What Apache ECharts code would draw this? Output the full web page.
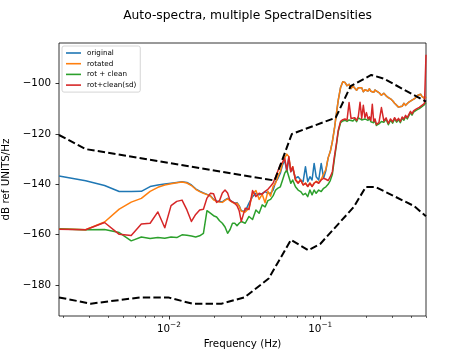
<!DOCTYPE html>
<html><head><meta charset="utf-8">
<script src="https://cdn.jsdelivr.net/npm/echarts@6/dist/echarts.min.js"></script>
<style>html,body{margin:0;padding:0;background:#fff}#c{width:474px;height:355px}</style>
</head><body><div id="c"></div>
<script>
// Frequencies (Hz)
const freqs = [0.00188,0.00282,0.00376,0.0047,0.00564,0.00658,0.00752,0.00846,0.0094,0.01034,0.01128,0.01222,0.01316,0.0141,0.01504,0.01598,0.01692,0.01786,0.0188,0.01974,0.02068,0.02162,0.02256,0.0235,0.02444,0.02538,0.02632,0.02726,0.0282,0.02914,0.03008,
0.03196,0.03384,0.03572,0.0376,0.03948,0.04136,0.04324,0.04512,0.047,0.04888,0.05076,0.05264,0.05452,0.0564,0.05828,0.06016,0.06204,0.06392,0.0658,
0.06862,0.07144,0.07426,0.07708,0.0799,0.08272,0.08554,0.08836,0.09118,
0.094,0.09776,0.10152,0.10528,0.10904,0.1128,0.11656,0.12032,0.12408,0.12784,0.1316,0.1363,0.141,0.1457,
0.1504,0.1551,0.1598,0.1645,0.1692,0.1739,0.1786,0.1833,0.188,0.1927,0.1974,0.2021,0.2068,0.2115,0.2162,0.2209,0.2256,0.2303,0.235,
0.2444,0.2538,0.2632,0.2726,0.282,0.2914,0.3008,0.3102,0.3196,0.329,0.3384,0.3478,0.3572,0.3666,0.376,0.3854,0.3948,0.4042,0.4136,0.423,0.4324,0.4418,0.4512,0.4606,0.47,0.4794,0.4888,
0.5];

const original = [-136.7,-138.6,-140.5,-142.9,-142.9,-142.8,-140.9,-140.3,-139.9,-139.6,-139.3,-139.0,-139.3,-140.3,-141.8,-142.7,-143.4,-144.0,-144.6,-146.0,-146.6,-146.9,-147.0,-146.2,-145.6,-146.3,-147.0,-147.5,-147.3,-148.5,-150.5,
-150.8,-147.5,-144.9,-143.6,-144.2,-143.6,-142.9,-143.6,-143.6,-142.3,-139.0,-137.6,-135.6,-132.3,-130.4,-135.0,-129.7,-135.0,-133.7,
-137.6,-137.0,-138.3,-139.0,-133.0,-139.0,-137.0,-138.3,-131.7,
-137.0,-138.3,-131.7,-137.6,-134.5,-129.5,-127.0,-123.0,-118.0,-112.0,-106.5,-101.5,-99.2,-99.5,
-100.8,-100.2,-101.9,-100.9,-101.5,-102.6,-101.6,-102.2,-101.6,-103.2,-102.4,-101.8,-102.9,-102.0,-103.0,-102.3,-103.4,-102.5,-102.0,
-103.5,-104.6,-103.8,-104.8,-105.5,-106.0,-106.8,-107.8,-108.4,-109.3,-108.6,-109.0,-107.8,-108.6,-108.2,-107.3,-107.8,-106.5,-106.9,-105.8,-105.3,-104.6,-105.2,-104.2,-105.0,-104.4,-105.8,
-105.2];

const rotated = [-157.7,-158.1,-155.0,-149.9,-147.1,-145.6,-142.8,-141.2,-140.3,-139.8,-139.4,-139.1,-139.5,-140.5,-142.0,-142.9,-143.6,-144.1,-144.7,-146.2,-146.8,-147.1,-147.2,-146.4,-145.8,-146.5,-147.2,-147.7,-147.5,-148.7,-150.7,
-151.0,-149.5,-143.8,-142.5,-146.0,-144.0,-147.3,-142.8,-144.7,-140.8,-139.5,-136.8,-134.8,-131.5,-129.5,-128.0,-129.0,-134.8,-133.0,
-138.0,-139.4,-138.2,-140.2,-139.5,-140.8,-139.5,-140.8,-139.5,
-138.8,-139.4,-138.0,-136.0,-134.0,-129.5,-127.0,-123.0,-118.0,-112.0,-106.5,-101.5,-99.2,-99.5,
-100.8,-100.2,-101.9,-100.9,-101.5,-102.6,-101.6,-102.2,-101.6,-103.2,-102.4,-101.8,-102.9,-102.0,-103.0,-102.3,-103.4,-102.5,-102.0,
-103.5,-104.6,-103.8,-104.8,-105.5,-106.0,-106.8,-107.8,-108.4,-109.3,-108.6,-109.0,-107.8,-108.6,-108.2,-107.3,-107.8,-106.5,-106.9,-105.8,-105.3,-104.6,-105.2,-104.2,-105.0,-104.4,-105.8,
-105.2];

const rotClean = [-157.8,-158.1,-158.0,-159.2,-162.5,-161.0,-161.6,-161.2,-161.5,-161.0,-161.2,-160.1,-160.3,-160.6,-161.0,-160.5,-159.5,-150.5,-151.5,-152.5,-153.0,-154.5,-155.5,-157.0,-159.5,-158.0,-155.5,-155.5,-156.5,-155.5,-154.8,
-155.5,-152.8,-154.0,-150.2,-151.5,-148.2,-149.0,-146.5,-146.0,-144.5,-142.3,-141.5,-141.0,-138.3,-135.6,-134.3,-137.0,-139.6,-138.3,
-141.0,-142.3,-142.9,-144.2,-143.6,-144.9,-142.3,-144.2,-142.3,
-143.6,-142.3,-142.9,-141.6,-141.0,-140.0,-138.5,-136.0,-130.0,-124.5,-119.0,-115.5,-114.8,-114.5,
-115.0,-114.4,-114.3,-114.8,-114.0,-115.1,-113.6,-114.2,-114.4,-114.5,-114.0,-113.8,-114.6,-113.8,-115.1,-114.9,-115.5,-114.6,-116.6,
-116.0,-115.0,-115.3,-114.1,-116.3,-114.5,-115.7,-114.0,-115.3,-114.3,-115.5,-113.7,-114.5,-113.1,-114.0,-112.7,-111.5,-112.5,-111.3,-112.0,-110.5,-111.1,-109.9,-110.3,-109.1,-109.4,-108.3,
-107.6];

const rotCleanSd = [-157.9,-158.1,-155.2,-159.9,-160.4,-155.8,-155.5,-151.0,-157.3,-148.5,-146.8,-146.3,-150.2,-154.8,-152.0,-150.2,-149.9,-145.5,-143.6,-143.8,-147.2,-146.5,-143.5,-142.3,-143.5,-146.5,-147.0,-147.5,-148.5,-150.5,-154.8,
-149.5,-150.0,-142.5,-144.9,-143.6,-144.0,-142.8,-142.0,-140.8,-139.5,-137.0,-134.5,-132.3,-131.2,-129.7,-134.3,-129.0,-135.0,-133.0,
-138.3,-139.6,-138.3,-140.3,-139.6,-140.9,-139.6,-140.9,-139.6,
-139.0,-139.6,-138.3,-137.6,-138.0,-138.5,-137.0,-135.0,-129.0,-124.0,-118.5,-115.0,-114.3,-114.0,
-114.5,-107.5,-113.8,-114.2,-113.5,-114.6,-113.0,-107.4,-113.8,-108.6,-113.5,-111.5,-114.0,-113.2,-114.6,-108.2,-115.0,-114.0,-116.2,
-115.5,-109.5,-114.8,-113.6,-115.8,-114.0,-115.2,-113.5,-114.8,-113.8,-115.0,-113.2,-114.0,-112.6,-113.5,-112.2,-111.0,-112.0,-110.8,-111.5,-110.0,-110.6,-109.4,-109.8,-108.6,-108.9,-107.8,
-88.5];

// Peterson noise models (breakpoints)
const nhnmFreqs = [0.00188,0.002818,0.05,0.06494,0.12658,0.15873,0.21739,0.26316,0.5];
const nhnmDb = [-120.4,-126.0,-138.5,-120.0,-113.5,-101.0,-96.5,-98.0,-107.1];
const nlnmFreqs = [0.00188,0.003049,0.006494,0.009901,0.014286,0.022222,0.031646,0.045662,0.064103,0.083333,0.1,0.166667,0.2,0.232558,0.416667,0.5];
const nlnmDb = [-185.0,-187.5,-185.0,-185.0,-187.5,-187.5,-185.0,-177.5,-162.1,-166.25,-163.75,-149.0,-141.1,-141.1,-148.65,-152.7];

const xMajorTicks = [0.01, 0.1];
const xMinorTicks = [0.002,0.003,0.004,0.005,0.006,0.007,0.008,0.009,0.02,0.03,0.04,0.05,0.06,0.07,0.08,0.09,0.2,0.3,0.4,0.5];
const yTicks = [-180,-160,-140,-120,-100];
const seriesNames = ['original','rotated','rot + clean','rot+clean(sd)'];
const seriesColors = ['#1f77b4','#ff7f0e','#2ca02c','#d62728'];

const font = 'DejaVu Sans';
const minus = s => String(s).replace('-', '\u2212');
const pairs = (xs, ys) => xs.map((x, i) => [x, ys[i]]);

const chart = echarts.init(document.getElementById('c'), null, {renderer: 'canvas'});
const dataSets = [original, rotated, rotClean, rotCleanSd];
const series = dataSets.map((d, i) => ({
  name: seriesNames[i], type: 'line', data: pairs(freqs, d), showSymbol: false, symbol: 'none',
  lineStyle: {color: seriesColors[i], width: 1.5, join: 'round'}, itemStyle: {color: seriesColors[i]}, z: 2 + i
}));
[[nhnmFreqs, nhnmDb], [nlnmFreqs, nlnmDb]].forEach(([f, d]) => series.push({
  type: 'line', data: pairs(f, d), showSymbol: false, symbol: 'none', z: 10,
  lineStyle: {color: '#000', width: 2, type: [7.4, 3.2]}
}));

const xLimits = {min: 0.00188, max: 0.5};
chart.setOption({
  backgroundColor: '#fff',
  animation: false,
  title: {text: 'Auto-spectra, multiple SpectralDensities', left: 242.5, top: 5, textAlign: 'center',
    textStyle: {fontFamily: font, fontSize: 12.3, fontWeight: 'normal', color: '#000'}},
  legend: {data: seriesNames, orient: 'vertical', left: 62, top: 46, padding: [3, 4, 3, 4],
    itemWidth: 15, itemHeight: 1.6, itemGap: 2.7, icon: 'rect',
    backgroundColor: 'rgba(255,255,255,0.8)', borderColor: '#ccc', borderWidth: 0.8, borderRadius: 2,
    textStyle: {fontFamily: font, fontSize: 7.2, color: '#000', lineHeight: 8, padding: [0, 0, 0, 1]}},
  grid: {left: 59, top: 43, width: 367, height: 273, show: true, borderColor: '#000', borderWidth: 0.8,
    containLabel: false, outerBoundsMode: 'none'},
  xAxis: [
    {type: 'log', logBase: 10, min: xLimits.min, max: xLimits.max,
      axisLine: {show: false}, splitLine: {show: false}, minorTick: {show: false},
      axisTick: {show: true, customValues: xMajorTicks, length: 3.5, lineStyle: {color: '#000', width: 0.8}},
      axisLabel: {customValues: xMajorTicks, margin: 6,
        formatter: v => '{b|10}{s|' + minus(Math.round(Math.log10(v))) + '}',
        rich: {b: {fontSize: 10.3, fontFamily: font, color: '#000'},
               s: {fontSize: 7.3, fontFamily: font, color: '#000', padding: [0, 0, 7, 0]}}},
      name: 'Frequency (Hz)', nameLocation: 'middle', nameGap: 23,
      nameTextStyle: {fontFamily: font, fontSize: 10.3, color: '#000'}},
    {type: 'log', logBase: 10, min: xLimits.min, max: xLimits.max, position: 'bottom',
      axisLine: {show: false}, splitLine: {show: false}, axisLabel: {show: false},
      axisTick: {show: true, customValues: xMinorTicks, length: 2, lineStyle: {color: '#000', width: 0.6}}}
  ],
  yAxis: {type: 'value', min: -192.4, max: -83.8,
    axisLine: {show: false}, splitLine: {show: false},
    axisTick: {show: true, customValues: yTicks, length: 3.5, lineStyle: {color: '#000', width: 0.8}},
    axisLabel: {customValues: yTicks, formatter: v => minus(v), margin: 8,
      fontSize: 10.3, fontFamily: font, color: '#000'},
    name: 'dB ref UNITS/Hz', nameLocation: 'middle', nameGap: 40,
    nameTextStyle: {fontFamily: font, fontSize: 10.3, color: '#000'}},
  series: series
});
</script></body></html>
